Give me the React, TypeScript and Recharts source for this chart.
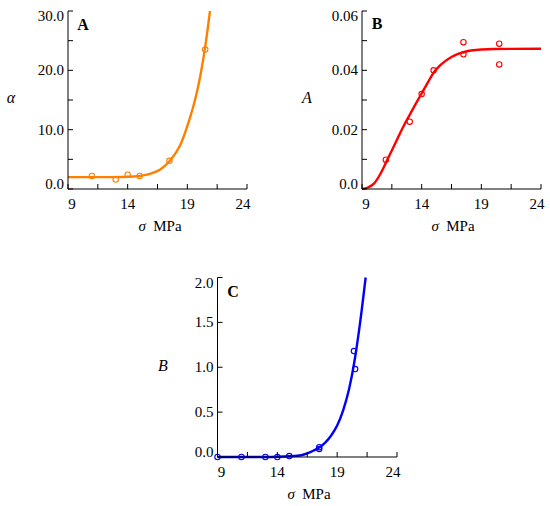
import React from 'react';
import { ComposedChart, Line, Scatter, XAxis, YAxis } from 'recharts';

// shared sigma axis
const sigmaTicks = [9, 11.5, 14, 16.5, 19, 21.5, 24];
const sigmaLabels = [9, 14, 19, 24];

// panel A: alpha
const alphaSigma = [11, 13, 14, 15, 17.5, 20.5];
const alphaObs = [2.2, 1.6, 2.4, 2.2, 4.75, 23.5];
const alphaFitSigma = [9, 12, 13.5, 14.5, 15.3, 16, 16.73, 17.5, 18.41, 19.11, 19.68, 20.09, 20.46, 20.74, 20.9];
const alphaFit = [2.0, 2.0, 2.02, 2.1, 2.3, 2.65, 3.3, 4.67, 7.4, 11.3, 15.3, 19.1, 23.5, 27.5, 30];
const alphaTicks = [0, 5, 10, 15, 20, 25, 30];
const alphaTickValues = [0, 10, 20, 30];
const alphaTickText = ['0.0', '10.0', '20.0', '30.0'];

// panel B: A
const ampSigma = [11, 13, 14, 15, 17.5, 17.5, 20.5, 20.5];
const ampObs = [0.0099, 0.0227, 0.032, 0.04, 0.0495, 0.0454, 0.049, 0.042];
const ampFitSigma = [9, 9.5, 10, 10.5, 11, 11.5, 12, 12.5, 13, 13.5, 14, 14.5, 15, 15.5, 16, 16.5, 17, 17.5, 18, 19, 20, 24];
const ampFit = [0, 0.0005, 0.0018, 0.0048, 0.0088, 0.013, 0.0172, 0.0213, 0.025, 0.0287, 0.0322, 0.0358, 0.0392, 0.0415, 0.0432, 0.0445, 0.0455, 0.0461, 0.0466, 0.047, 0.0472, 0.0473];
const ampTicks = [0, 0.01, 0.02, 0.03, 0.04, 0.05, 0.06];
const ampTickValues = [0, 0.02, 0.04, 0.06];
const ampTickText = ['0.0', '0.02', '0.04', '0.06'];

// panel C: B
const bSigma = [9, 11, 13, 14, 15, 17.5, 17.5, 20.4, 20.5];
const bObs = [0, 0, 0, 0, 0.01, 0.09, 0.11, 1.18, 0.98];
const bFitSigma = [9, 13, 14, 15, 16, 16.5, 17, 17.5, 18, 18.5, 19, 19.5, 20, 20.45, 20.9, 21.38];
const bFit = [0, 0, 0.002, 0.008, 0.02, 0.04, 0.07, 0.105, 0.16, 0.24, 0.35, 0.52, 0.76, 1.07, 1.48, 2.0];
const bTicks = [0, 0.5, 1, 1.5, 2];
const bTickValues = [0, 0.5, 1, 1.5, 2];
const bTickText = ['0.0', '0.5', '1.0', '1.5', '2.0'];

const FONT = 'Liberation Serif, Times New Roman, DejaVu Serif, serif';

const zip = (xs: number[], ys: number[]) => xs.map((s, i) => ({ s, v: ys[i] }));

const makeXTick = (min: number, max: number) => (props: any) => {
  const { x, y, payload } = props;
  const v = payload.value;
  const shift = v === min ? 4 : v === max ? -4 : 0;
  return (
    <g>
      <line x1={x} x2={x} y1={y} y2={y - 5} stroke="#000" strokeWidth={1} />
      {sigmaLabels.includes(v) && (
        <text x={x + shift} y={y + 20} textAnchor="middle" fontFamily={FONT} fontSize={15} fill="#000">
          {v}
        </text>
      )}
    </g>
  );
};

const makeYTick = (values: number[], text: string[], min: number, max: number) => (props: any) => {
  const { x, y, payload } = props;
  const v = payload.value;
  const idx = values.findIndex((t) => Math.abs(t - v) < 1e-9);
  const dy = Math.abs(v - min) < 1e-9 ? 0 : Math.abs(v - max) < 1e-9 ? 10 : 5;
  return (
    <g>
      <line x1={x} x2={x + 5} y1={y} y2={y} stroke="#000" strokeWidth={1} />
      {idx >= 0 && (
        <text x={x - 4} y={y + dy} textAnchor="end" fontFamily={FONT} fontSize={15} fill="#000">
          {text[idx]}
        </text>
      )}
    </g>
  );
};

const ring = (color: string) => (props: any) => (
  <circle cx={props.cx} cy={props.cy} r={2.7} fill="none" stroke={color} strokeWidth={1.1} />
);

interface PanelProps {
  left: number;
  top: number;
  margin: { top: number; right: number; left: number; bottom: number };
  xHeight: number;
  yDomain: [number, number];
  yTicks: number[];
  yValues: number[];
  yText: string[];
  fit: { s: number; v: number }[];
  obs: { s: number; v: number }[];
  color: string;
}

const Panel = ({ left, top, margin, xHeight, yDomain, yTicks, yValues, yText, fit, obs, color }: PanelProps) => (
  <div style={{ position: 'absolute', left, top }}>
    <ComposedChart width={275} height={240} margin={margin}>
      <XAxis
        dataKey="s"
        type="number"
        domain={[9, 24]}
        ticks={sigmaTicks}
        interval={0}
        height={xHeight}
        tickSize={0}
        tickMargin={0}
        tickLine={false}
        axisLine={{ stroke: '#000' }}
        tick={makeXTick(9, 24)}
      />
      <XAxis xAxisId="top" orientation="top" type="number" domain={[9, 24]} height={0} tick={false} tickLine={false} axisLine={{ stroke: '#000' }} />
      <YAxis
        type="number"
        domain={yDomain}
        ticks={yTicks}
        interval={0}
        width={60}
        tickSize={0}
        tickMargin={0}
        tickLine={false}
        axisLine={{ stroke: '#000' }}
        tick={makeYTick(yValues, yText, yDomain[0], yDomain[1])}
      />
      <YAxis yAxisId="right" orientation="right" type="number" domain={yDomain} width={0} tick={false} tickLine={false} axisLine={{ stroke: '#000' }} />
      <Line data={fit} dataKey="v" type="monotone" stroke={color} strokeWidth={2.4} dot={false} isAnimationActive={false} />
      <Scatter data={obs} dataKey="v" shape={ring(color)} isAnimationActive={false} />
    </ComposedChart>
  </div>
);

const Txt = ({ x, y, children, style }: { x: number; y: number; children: React.ReactNode; style?: React.CSSProperties }) => (
  <div
    style={{
      position: 'absolute',
      left: x,
      top: y,
      transform: 'translate(-50%, -50%)',
      fontFamily: FONT,
      fontSize: 15,
      whiteSpace: 'nowrap',
      lineHeight: 1,
      ...style,
    }}
  >
    {children}
  </div>
);

const SigmaLabel = ({ x, y }: { x: number; y: number }) => (
  <Txt x={x} y={y}>
    <i>σ</i>&nbsp;&nbsp;MPa
  </Txt>
);

export default function App() {
  return (
    <div style={{ position: 'absolute', left: 0, top: 0, width: 550, height: 506, background: '#fff', overflow: 'hidden' }}>
      <Panel
        left={0}
        top={0}
        margin={{ top: 11, right: 28, left: 8, bottom: 0 }}
        xHeight={51}
        yDomain={[0, 30]}
        yTicks={alphaTicks}
        yValues={alphaTickValues}
        yText={alphaTickText}
        fit={zip(alphaFitSigma, alphaFit)}
        obs={zip(alphaSigma, alphaObs)}
        color="#ff7f00"
      />
      <Panel
        left={275}
        top={0}
        margin={{ top: 11, right: 9, left: 27, bottom: 0 }}
        xHeight={51}
        yDomain={[0, 0.06]}
        yTicks={ampTicks}
        yValues={ampTickValues}
        yText={ampTickText}
        fit={zip(ampFitSigma, ampFit)}
        obs={zip(ampSigma, ampObs)}
        color="#ff0000"
      />
      <Panel
        left={150}
        top={266}
        margin={{ top: 11.5, right: 28, left: 7.5, bottom: 0 }}
        xHeight={49}
        yDomain={[0, 2]}
        yTicks={bTicks}
        yValues={bTickValues}
        yText={bTickText}
        fit={zip(bFitSigma, bFit)}
        obs={zip(bSigma, bObs)}
        color="#0000ff"
      />

      <Txt x={83} y={25} style={{ fontWeight: 'bold', fontSize: 16 }}>A</Txt>
      <Txt x={377} y={24} style={{ fontWeight: 'bold', fontSize: 16 }}>B</Txt>
      <Txt x={233} y={292} style={{ fontWeight: 'bold', fontSize: 16 }}>C</Txt>

      <Txt x={11} y={98} style={{ fontStyle: 'italic', fontSize: 16 }}>α</Txt>
      <Txt x={307} y={98} style={{ fontStyle: 'italic', fontSize: 16 }}>A</Txt>
      <Txt x={163} y={366} style={{ fontStyle: 'italic', fontSize: 16 }}>B</Txt>

      <SigmaLabel x={160} y={226} />
      <SigmaLabel x={453} y={226} />
      <SigmaLabel x={309} y={494} />
    </div>
  );
}
